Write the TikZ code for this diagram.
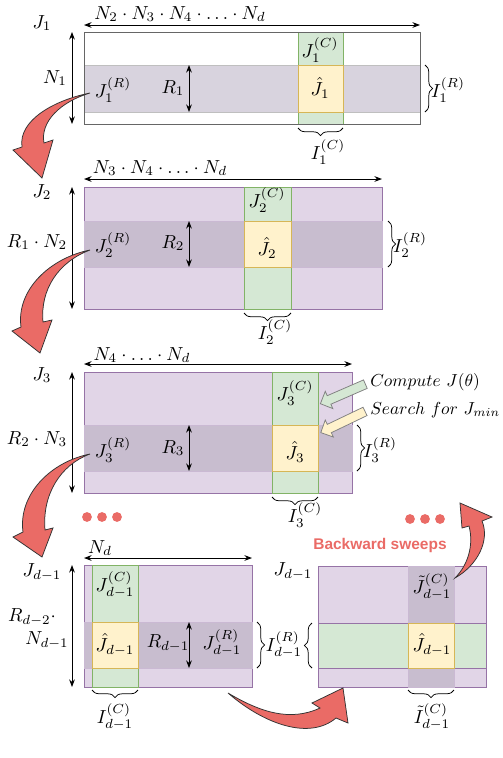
\documentclass[tikz,border=0pt]{standalone}
\usepackage{amsmath}
\usepackage{amssymb}
\usepackage{fontspec}
\usepackage{tikz}
\usetikzlibrary{decorations.pathreplacing,shapes.arrows,arrows.meta}

\newfontfamily\sweepfont{Liberation Sans}

\definecolor{lpurple}{HTML}{E1D5E7}
\definecolor{dpurple}{HTML}{9673A6}
\definecolor{lgreen}{HTML}{D5E8D4}
\definecolor{dgreen}{HTML}{82B366}
\definecolor{lyellow}{HTML}{FFF2CC}
\definecolor{dyellow}{HTML}{D6B656}
\definecolor{bandgray}{HTML}{C8BDCF}
\definecolor{bandlight}{HTML}{D8D3DE}
\definecolor{sweep}{HTML}{EA6B66}

\tikzset{
  dimarrow/.style={{Stealth[length=4pt,width=3pt]}-{Stealth[length=4pt,width=3pt]}, line width=0.5pt},
  bracer/.style={decorate, decoration={brace, amplitude=4pt}, line width=0.4pt},
  bracem/.style={decorate, decoration={brace, amplitude=4pt, mirror}, line width=0.4pt},
  bigarrow/.style={fill=sweep, draw=black!80, line width=0.4pt},
  hintarrow/.style={single arrow, draw=black!50, minimum height=26pt, minimum width=10pt, inner sep=2.2pt, single arrow head extend=2.5pt},
  hinttext/.style={anchor=west, inner sep=0pt, scale=0.92},
}

\begin{document}
\begin{tikzpicture}[x=0.53pt, y=-0.53pt]
	\useasboundingbox (0,0) rectangle (502,758);

	% block 1
	\fill[white] (84,32) rectangle (420,124);
	\draw[black!25, fill=bandlight] (84,65) rectangle (420,112);
	\draw[dgreen, fill=lgreen] (298,32) rectangle (343,124);
	\draw[dyellow, fill=lyellow] (298,65) rectangle (343,112);
	\draw[black!60] (84,32) rectangle (420,124);
	\draw[dimarrow] (84,25) -- (420,25);
	\draw[dimarrow] (72,32) -- (72,124);
	\draw[dimarrow] (189,65) -- (189,112);
	\draw[bracer] (425,65) -- (425,112);
	\draw[bracem] (298,128) -- (343,128);
	\node (j1) at (42,23) {$J_1$};
	\node (n1top) at (180,14) {$N_2\cdot N_3\cdot N_4\cdot\ldots\cdot N_d$};
	\node (n1) at (55,78) {$N_1$};
	\node (j1r) at (113,90) {$J_1^{(R)}$};
	\node (r1) at (173,88) {$R_1$};
	\node (j1c) at (320,50) {$J_1^{(C)}$};
	\node (j1h) at (320,88) {$\hat{J}_1$};
	\node (i1r) at (448,90) {$I_1^{(R)}$};
	\node (i1c) at (328,152) {$I_1^{(C)}$};

	% block 2
	\draw[dpurple, fill=lpurple] (84,187) rectangle (382,309);
	\draw[dpurple!50, fill=bandgray] (84,221) rectangle (382,267);
	\draw[dgreen, fill=lgreen] (244,187) rectangle (291,309);
	\draw[dyellow, fill=lyellow] (244,221) rectangle (291,267);
	\draw[dimarrow] (84,179) -- (382,179);
	\draw[dimarrow] (72,187) -- (72,309);
	\draw[dimarrow] (189,221) -- (189,267);
	\draw[bracer] (388,221) -- (388,267);
	\draw[bracem] (244,313) -- (291,313);
	\node (j2) at (42,192) {$J_2$};
	\node (n2top) at (160,168) {$N_3\cdot N_4\cdot\ldots\cdot N_d$};
	\node (n2) at (37,242) {$R_1\cdot N_2$};
	\node (j2r) at (113,245) {$J_2^{(R)}$};
	\node (r2) at (173,243) {$R_2$};
	\node (j2c) at (267,200) {$J_2^{(C)}$};
	\node (j2h) at (267,248) {$\hat{J}_2$};
	\node (i2r) at (410,245) {$I_2^{(R)}$};
	\node (i2c) at (275,332) {$I_2^{(C)}$};

	% block 3
	\draw[dpurple, fill=lpurple] (84,372) rectangle (352,493);
	\draw[dpurple!50, fill=bandgray] (84,425) rectangle (352,471);
	\draw[dgreen, fill=lgreen] (272,372) rectangle (318,493);
	\draw[dyellow, fill=lyellow] (272,425) rectangle (318,471);
	\draw[dimarrow] (84,364) -- (352,364);
	\draw[dimarrow] (72,372) -- (72,493);
	\draw[dimarrow] (189,425) -- (189,471);
	\draw[bracer] (357,425) -- (357,471);
	\draw[bracem] (272,497) -- (318,497);
	\node (j3) at (42,375) {$J_3$};
	\node (n3top) at (142,355) {$N_4\cdot\ldots\cdot N_d$};
	\node (n3) at (37,439) {$R_2\cdot N_3$};
	\node (j3r) at (113,450) {$J_3^{(R)}$};
	\node (r3) at (173,448) {$R_3$};
	\node (j3c) at (295,393) {$J_3^{(C)}$};
	\node (j3h) at (295,452) {$\hat{J}_3$};
	\node (i3r) at (380,450) {$I_3^{(R)}$};
	\node (i3c) at (305,515) {$I_3^{(C)}$};
	\node[hintarrow, fill=lgreen, rotate=203.5] (compute) at (345,393) {};
	\node[hintarrow, fill=lyellow, rotate=205.6] (search) at (345,421) {};
	\node[hinttext] (computetxt) at (370,382) {$Compute\ J(\theta)$};
	\node[hinttext] (searchtxt) at (370,410) {$Search\,\,for\,\,J_{min}$};

	% dots
	\foreach \x/\y [count=\i] in {87/517, 102/517, 117/517, 410/519, 425/519, 440/519}
		\fill[sweep] (\x,\y) circle (2.6pt);

	% block 4
	\draw[dpurple, fill=lpurple] (84,565) rectangle (252,687);
	\draw[dpurple!50, fill=bandgray] (84,622) rectangle (252,668);
	\draw[dgreen, fill=lgreen] (92,565) rectangle (138,687);
	\draw[dyellow, fill=lyellow] (92,622) rectangle (138,668);
	\draw[dimarrow] (84,558) -- (252,558);
	\draw[dimarrow] (72,565) -- (72,687);
	\draw[dimarrow] (189,622) -- (189,668);
	\draw[bracer] (257,622) -- (257,668);
	\draw[bracem] (92,690) -- (138,690);
	\node (n4top) at (100,548) {$N_d$};
	\node (j4) at (42,572) {$J_{d-1}$};
	\node (n4a) at (32,617) {$R_{d-2}\cdot$};
	\node (n4b) at (47,640) {$N_{d-1}$};
	\node (j4c) at (115,585) {$J_{d-1}^{(C)}$};
	\node (j4h) at (115,645) {$\hat{J}_{d-1}$};
	\node (r4) at (168,643) {$R_{d-1}$};
	\node (j4r) at (222,643) {$J_{d-1}^{(R)}$};
	\node (i4r) at (284,645) {$I_{d-1}^{(R)}$};
	\node (i4c) at (115,717) {$I_{d-1}^{(C)}$};

	% block 5
	\draw[dpurple, fill=lpurple] (318,566) rectangle (486,687);
	\draw[dpurple!50, fill=bandgray] (408,566) rectangle (454,687);
	\draw[dpurple, fill=lgreen] (318,623) rectangle (486,668);
	\draw[dyellow, fill=lyellow] (408,623) rectangle (454,668);
	\draw[bracem] (312,623) -- (312,668);
	\draw[bracem] (408,690) -- (454,690);
	\node (j5) at (293,571) {$J_{d-1}$};
	\node (j5c) at (432,587) {$\tilde{J}_{d-1}^{(C)}$};
	\node (j5h) at (432,645) {$\hat{J}_{d-1}$};
	\node (i5c) at (432,717) {$\tilde{I}_{d-1}^{(C)}$};
	\node[text=sweep] (sweeps) at (380,545) {\sweepfont\bfseries\fontsize{8.2}{10}\selectfont Backward sweeps};

	% big arrows
	\draw[bigarrow] (90,93) .. controls (55,100) and (18,120) .. (22,147) -- (13,150) -- (42,178) -- (53,140) -- (44,143) .. controls (40,122) and (60,102) .. (90,93) -- cycle;
	\draw[bigarrow] (90,250) .. controls (50,258) and (16,290) .. (21,327) -- (12,331) -- (40,353) -- (52,320) -- (43,322) .. controls (40,290) and (58,262) .. (90,250) -- cycle;
	\draw[bigarrow] (90,454) .. controls (50,462) and (18,495) .. (23,532) -- (13,537) -- (42,557) -- (53,528) -- (45,530) .. controls (42,495) and (60,465) .. (90,454) -- cycle;
	\draw[bigarrow] (228,693) .. controls (265,725) and (310,740) .. (336,718) -- (348,723) -- (343,688) -- (312,703) -- (320,708) .. controls (290,722) and (260,712) .. (228,693) -- cycle;
	\draw[bigarrow] (455,578) .. controls (478,565) and (490,540) .. (482,521) -- (492,517) -- (460,503) -- (462,528) -- (469,526) .. controls (474,545) and (468,565) .. (455,578) -- cycle;
\end{tikzpicture}
\end{document}
